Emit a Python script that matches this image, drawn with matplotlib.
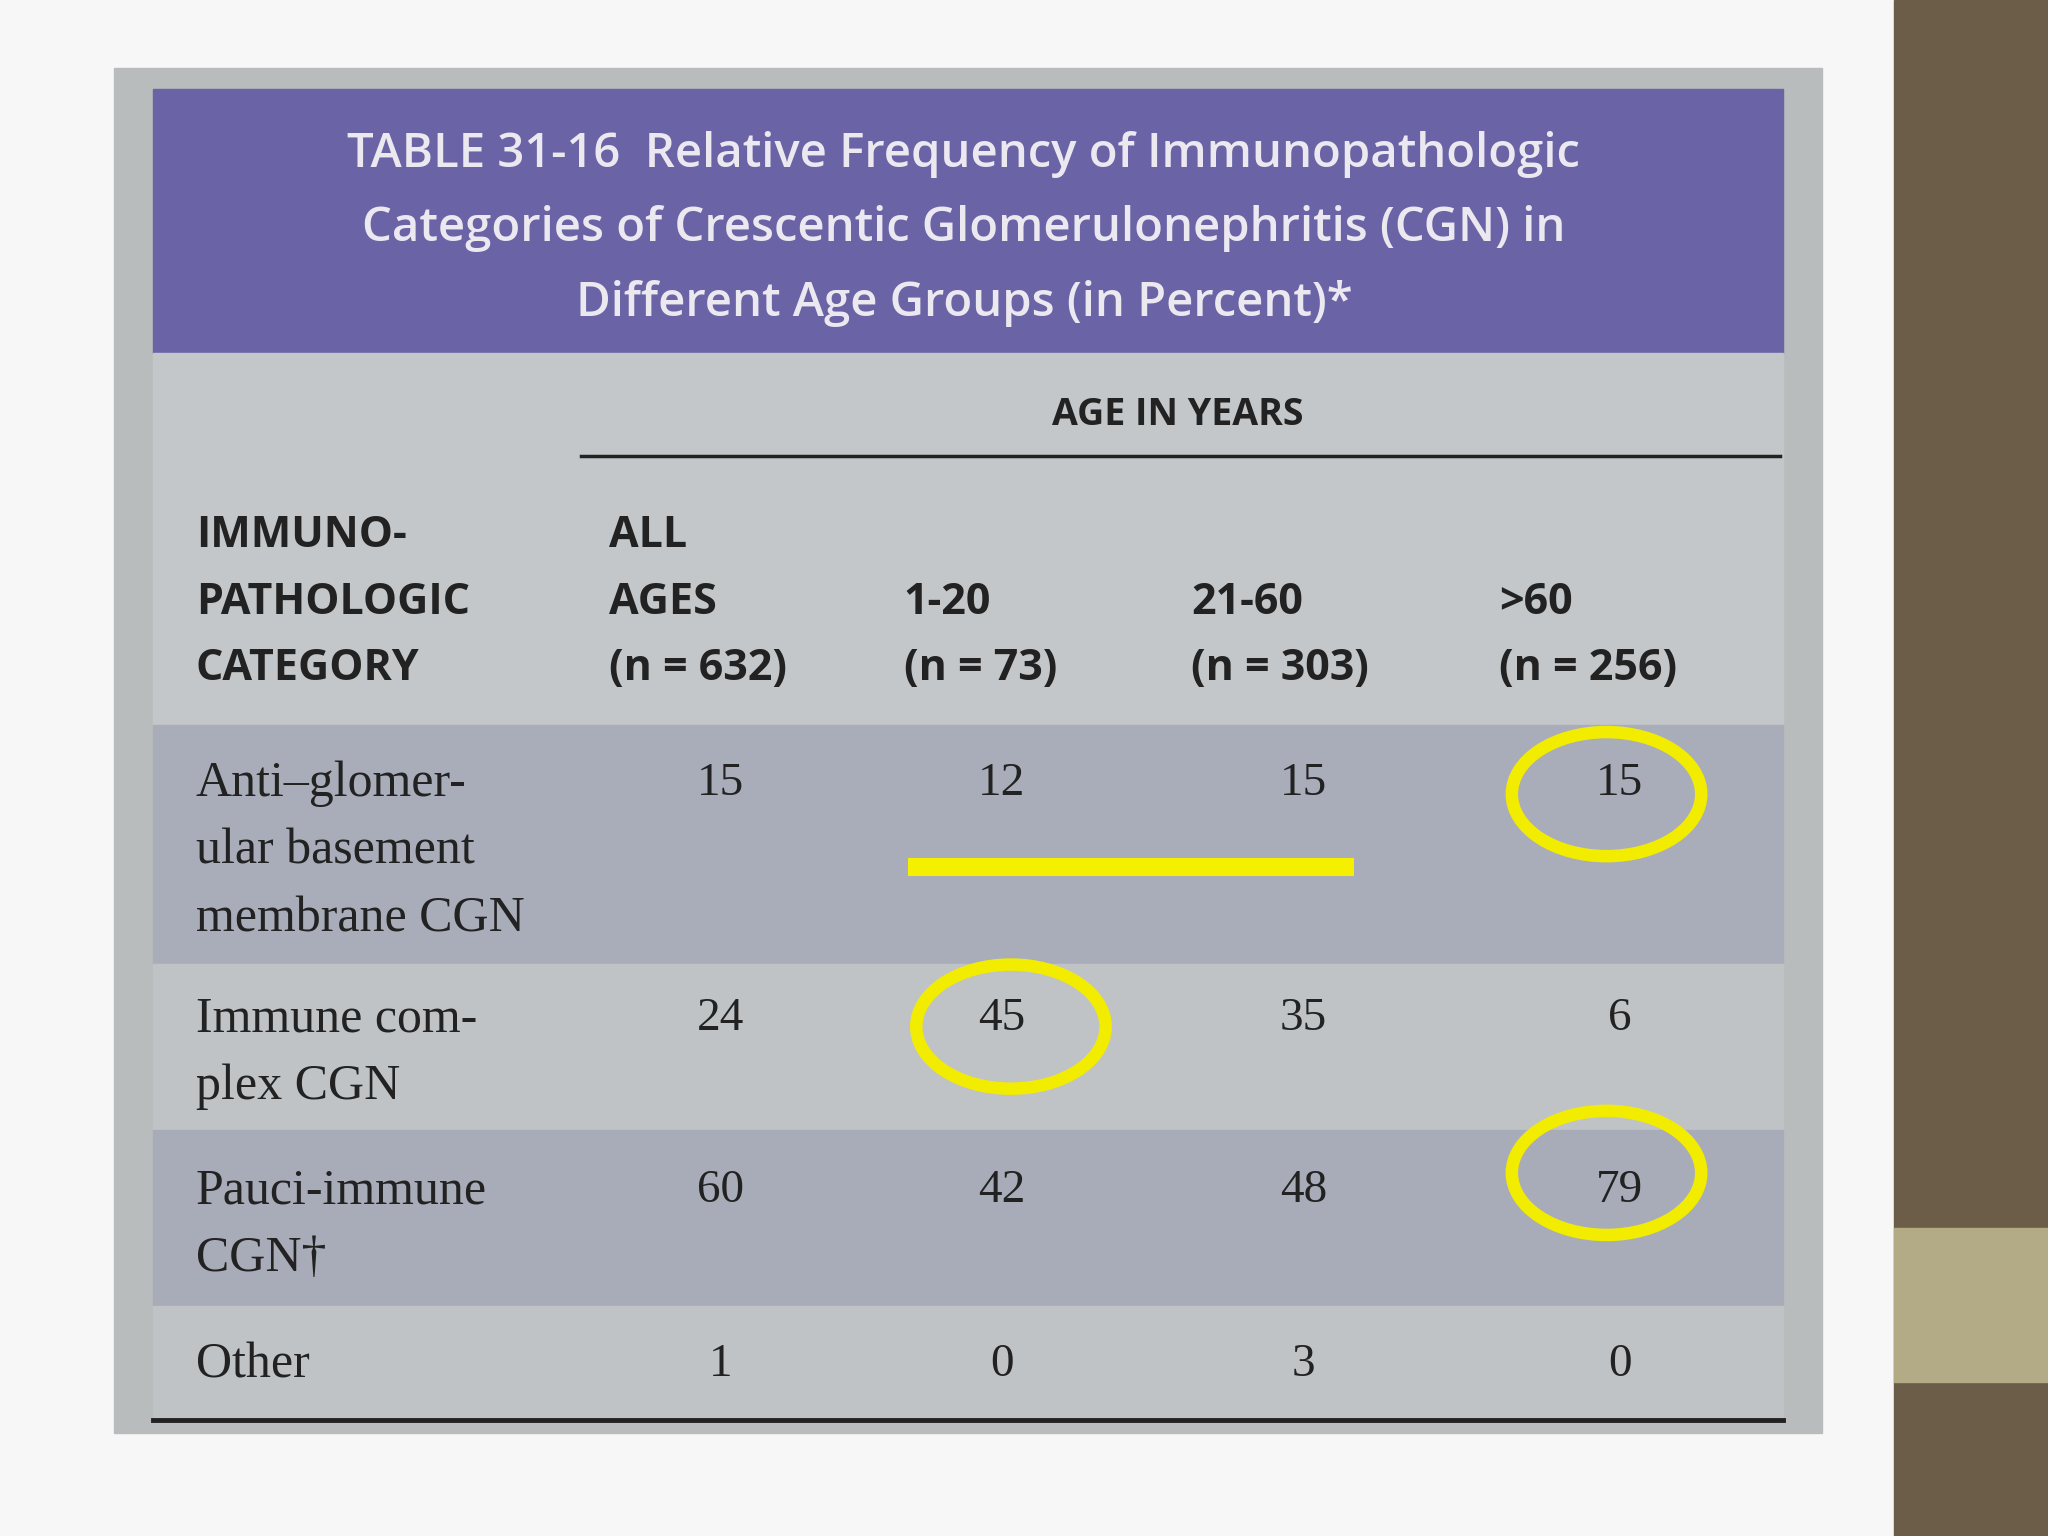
import matplotlib
matplotlib.use("Agg")
import matplotlib.pyplot as plt
from matplotlib.patches import Rectangle, Ellipse

title_lines = ["TABLE 31-16  Relative Frequency of Immunopathologic",
               "Categories of Crescentic Glomerulonephritis (CGN) in",
               "Different Age Groups (in Percent)*"]
col_headers = [["IMMUNO-", "PATHOLOGIC", "CATEGORY"],
               ["ALL", "AGES", "(n = 632)"],
               ["", "1-20", "(n = 73)"],
               ["", "21-60", "(n = 303)"],
               ["", ">60", "(n = 256)"]]
categories = [["Anti–glomer-", "ular basement", "membrane CGN"],
              ["Immune com-", "plex CGN"],
              ["Pauci-immune", "CGN\u2020"],
              ["Other"]]
all_ages = [15, 24, 60, 1]
age_1_20 = [12, 45, 42, 0]
age_21_60 = [15, 35, 48, 3]
age_over60 = [15, 6, 79, 0]

W, H = 1568, 1176
fig = plt.figure(figsize=(20.48, 15.36), dpi=100)
ax = fig.add_axes([0, 0, 1, 1])
ax.set_xlim(0, W); ax.set_ylim(H, 0); ax.axis("off")
fig.patch.set_facecolor("#f7f7f7")

ax.add_patch(Rectangle((1450, 0), 118, H, color="#6b5d47"))
ax.add_patch(Rectangle((1450, 940), 118, 118, color="#b3ab86"))

ax.add_patch(Rectangle((87, 52), 1308, 1045, color="#b9bcbd"))
ax.add_patch(Rectangle((117, 68), 1248, 202, color="#6a64a6"))
for i, t in enumerate(title_lines):
    ax.text(738, 118 + i * 57, t, ha="center", va="center", color="#ece8f0",
            fontsize=34, family="Open Sans", weight="semibold")

ax.add_patch(Rectangle((117, 270), 1248, 285, color="#c4c7c9"))
bands = [(555, 738, "#a9adb9"), (738, 865, "#c0c3c6"), (865, 1000, "#a8acb8"), (1000, 1085, "#c0c3c6")]
for y0, y1, c in bands:
    ax.add_patch(Rectangle((117, y0), 1248, y1 - y0, color=c))

ax.plot([445, 1363], [349, 349], color="#222", lw=2.5)
ax.plot([117, 1365], [1087, 1087], color="#222", lw=3.5)
ax.text(902, 318, "AGE IN YEARS", ha="center", va="center", fontsize=27, weight="bold",
        color="#222", family="Open Sans")

hx = [150, 466, 692, 912, 1148]
for x, lines in zip(hx, col_headers):
    for j, t in enumerate(lines):
        ax.text(x, 410 + j * 51, t, ha="left", va="center", fontsize=31, weight="bold",
                color="#222", family="Open Sans")

row_y = [600, 780, 912, 1045]
cx = [552, 767, 998, 1240]
for i, cat in enumerate(categories):
    for j, t in enumerate(cat):
        ax.text(150, row_y[i] + j * 52, t, ha="left", va="center", fontsize=36,
                color="#222", family="Liberation Serif")
    for x, vals in zip(cx, [all_ages, age_1_20, age_21_60, age_over60]):
        ax.text(x, row_y[i], str(vals[i]), ha="center", va="center", fontsize=34,
                color="#222", family="Liberation Serif")

ax.plot([695, 1037], [664, 664], color="#f5ef00", lw=13, solid_capstyle="butt")
for (x, y) in [(1230, 608), (774, 786), (1230, 898)]:
    ax.add_patch(Ellipse((x, y), 145, 95, fill=False, ec="#f2ec00", lw=9))

fig.savefig("out.png", dpi=100, facecolor=fig.get_facecolor())
